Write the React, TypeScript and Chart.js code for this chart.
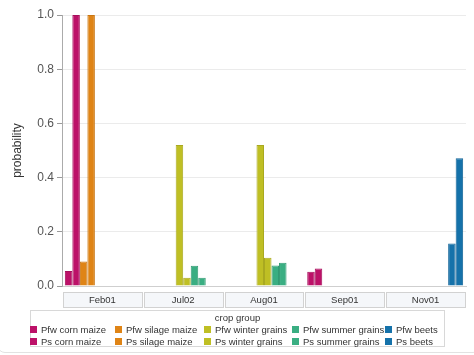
import React, { useEffect, useRef } from "react";
import { Chart, registerables } from "chart.js";

Chart.register(...registerables);

const categories = ["Feb01", "Jul02", "Aug01", "Sep01", "Nov01"];
const seriesNames = [
  "Pfw corn maize",
  "Ps corn maize",
  "Pfw silage maize",
  "Ps silage maize",
  "Pfw winter grains",
  "Ps winter grains",
  "Pfw summer grains",
  "Ps summer grains",
  "Pfw beets",
  "Ps beets",
];
const pfwCornMaize = [0.055, null, null, 0.053, null];
const psCornMaize = [1.0, null, null, 0.065, null];
const pfwSilageMaize = [0.09, null, null, null, null];
const psSilageMaize = [1.0, null, null, null, null];
const pfwWinterGrains = [null, 0.52, 0.52, null, null];
const psWinterGrains = [null, 0.03, 0.104, null, null];
const pfwSummerGrains = [null, 0.075, 0.076, null, null];
const psSummerGrains = [null, 0.03, 0.086, null, null];
const pfwBeets = [null, null, null, null, 0.157];
const psBeets = [null, null, null, null, 0.471];
const yTicks = [0, 0.2, 0.4, 0.6, 0.8, 1.0];

const seriesValues = [
  pfwCornMaize,
  psCornMaize,
  pfwSilageMaize,
  psSilageMaize,
  pfwWinterGrains,
  psWinterGrains,
  pfwSummerGrains,
  psSummerGrains,
  pfwBeets,
  psBeets,
];
const groupColors = ["#BC1168", "#DF8416", "#BFBF24", "#3AAE82", "#1572AA"];
const groupBorders = ["#A60F5C", "#C97612", "#A9A920", "#339B74", "#126497"];

const boxPlugin = {
  id: "catBoxes",
  beforeDraw(chart: any) {
    const x = chart.scales.x;
    const ctx = chart.ctx;
    const w = x.width / categories.length;
    ctx.save();
    for (let i = 0; i < categories.length; i++) {
      const c = x.getPixelForValue(i);
      const l = Math.round(c - w / 2) + 1.5;
      const r = Math.round(c + w / 2) - 0.5;
      ctx.fillStyle = "#f5f7fa";
      ctx.fillRect(l, 292.5, r - l, 15);
      ctx.strokeStyle = "#d2d2d2";
      ctx.lineWidth = 1;
      ctx.strokeRect(l, 292.5, r - l, 15);
    }
    ctx.restore();
  },
};

export default function App() {
  const ref = useRef<HTMLCanvasElement>(null);
  useEffect(() => {
    const chart = new Chart(ref.current as HTMLCanvasElement, {
      type: "bar",
      data: {
        labels: categories,
        datasets: seriesNames.map((name, i) => ({
          label: name,
          data: seriesValues[i],
          backgroundColor: groupColors[Math.floor(i / 2)],
          borderColor: groupBorders[Math.floor(i / 2)],
          borderWidth: 1,
          categoryPercentage: 0.93,
          barPercentage: 1,
        })),
      },
      options: {
        animation: false,
        responsive: false,
        maintainAspectRatio: false,
        layout: { padding: { left: 10, top: 15, right: 8, bottom: 0 } },
        plugins: {
          legend: { display: false },
          tooltip: { enabled: false },
        },
        scales: {
          x: {
            grid: { display: false, drawTicks: false },
            border: { display: true, color: "#cfcfcf" },
            ticks: {
              padding: 9,
              color: "#333",
              font: { family: "Liberation Sans, Arial", size: 9.5 },
            },
            afterFit: (s: any) => {
              s.height = 69;
            },
          },
          y: {
            min: 0,
            max: 1,
            afterBuildTicks: (s: any) => {
              s.ticks = yTicks.map((v) => ({ value: v }));
            },
            grid: { color: "#ebebeb", tickColor: "#9a9a9a", tickLength: 5 },
            border: { display: true, color: "#ababab" },
            ticks: {
              padding: 3,
              color: "#555",
              font: { family: "Liberation Sans, Arial", size: 12 },
              callback: (v: any) => Number(v).toFixed(1),
            },
            title: {
              display: true,
              text: "probability",
              color: "#333",
              padding: { top: 0, bottom: 0 },
              font: { family: "Liberation Sans, Arial", size: 12 },
            },
            afterFit: (s: any) => {
              s.width = 52;
            },
          },
        },
      },
      plugins: [boxPlugin],
    });
    return () => chart.destroy();
  }, []);

  const cols = [30, 115, 204, 292, 385];
  const rowsY = [323.5, 335];
  const legendItems: any[] = [];
  for (let r = 0; r < 2; r++) {
    for (let c = 0; c < 5; c++) {
      const idx = c * 2 + r;
      legendItems.push(
        <div
          key={idx}
          style={{
            position: "absolute",
            left: cols[c],
            top: rowsY[r],
            height: 12,
            display: "flex",
            alignItems: "center",
            whiteSpace: "nowrap",
          }}
        >
          <span
            style={{
              display: "inline-block",
              width: 7,
              height: 7,
              background: groupColors[c],
              marginRight: 4,
            }}
          />
          <span>{seriesNames[idx]}</span>
        </div>
      );
    }
  }

  return (
    <div
      style={{
        position: "fixed",
        left: 0,
        top: 0,
        width: 474,
        height: 355,
        background: "#fff",
        overflow: "hidden",
        fontFamily: "Liberation Sans, Arial, sans-serif",
      }}
    >
      <canvas ref={ref} width={474} height={355} style={{ display: "block" }} />
      <div
        style={{
          position: "absolute",
          left: -3,
          top: -20,
          width: 484,
          height: 373,
          border: "1px solid #e2e2e2",
          borderRadius: 8,
          boxSizing: "border-box",
        }}
      />
      <div
        style={{
          position: "absolute",
          left: 30,
          top: 310,
          width: 415,
          height: 37,
          border: "1px solid #d8d8d8",
          boxSizing: "border-box",
        }}
      />
      <div
        style={{
          position: "absolute",
          left: 30,
          top: 312,
          width: 415,
          textAlign: "center",
          fontSize: 9.5,
          color: "#333",
          lineHeight: "12px",
        }}
      >
        crop group
      </div>
      <div style={{ fontSize: 9.5, color: "#333" }}>{legendItems}</div>
    </div>
  );
}
